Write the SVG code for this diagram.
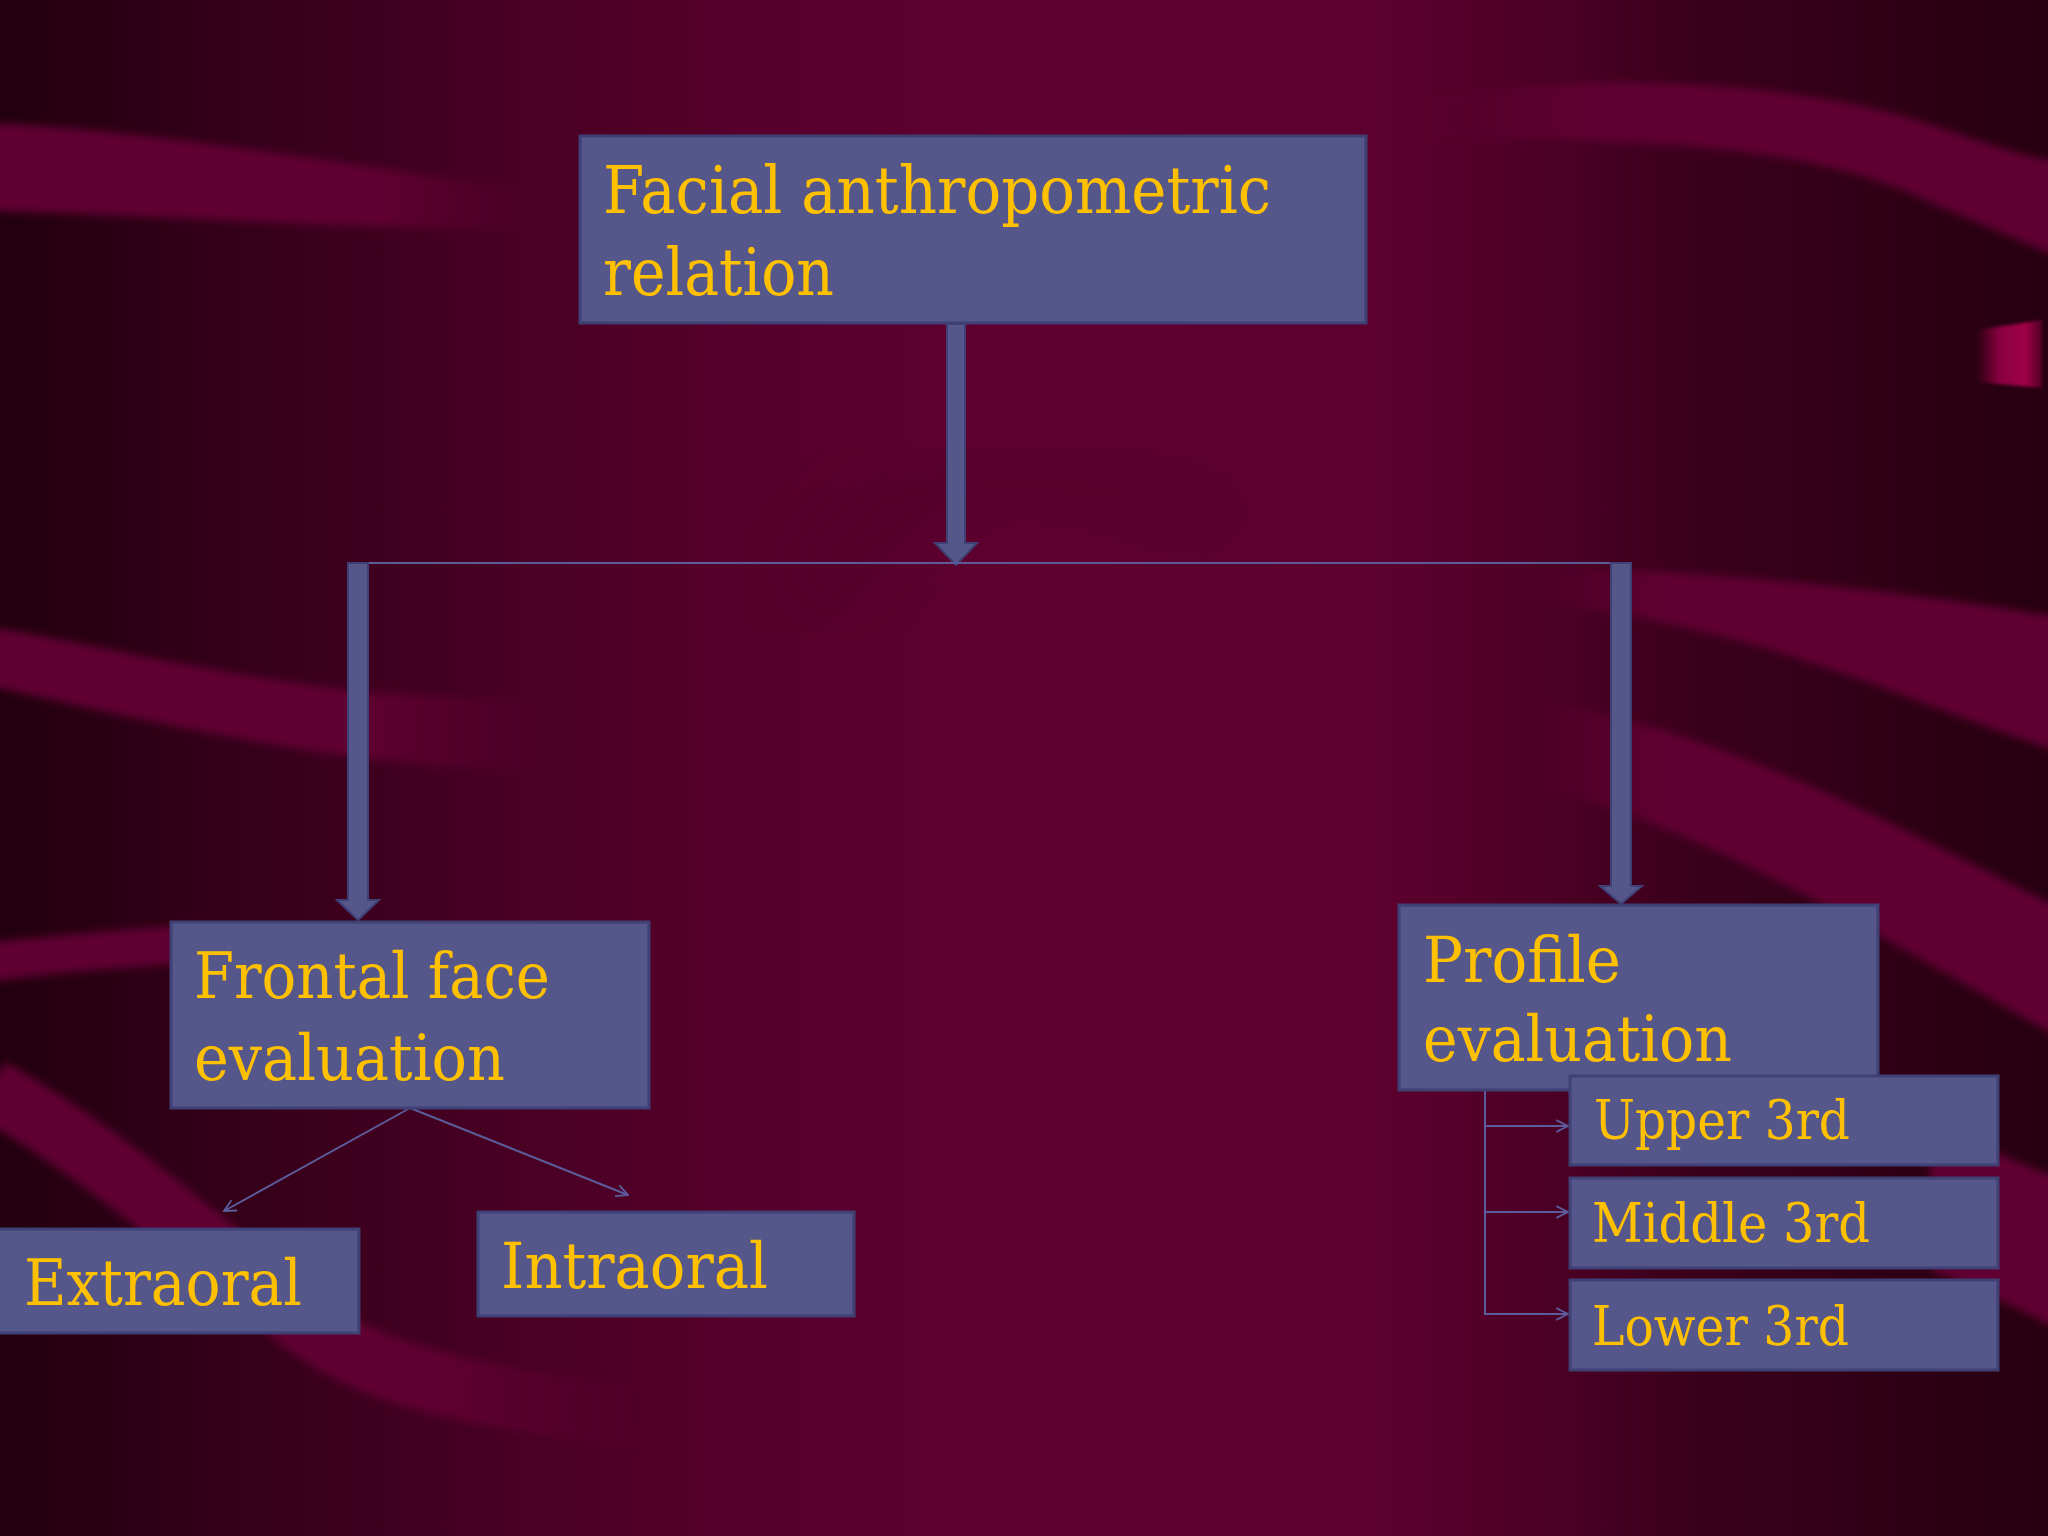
<svg xmlns="http://www.w3.org/2000/svg" width="2048" height="1536" viewBox="0 0 2048 1536">
<defs>
<linearGradient id="bgH" x1="0" y1="0" x2="1" y2="0">
<stop offset="0" stop-color="#22000f"/>
<stop offset="0.15" stop-color="#3a001c"/>
<stop offset="0.35" stop-color="#55002a"/>
<stop offset="0.5" stop-color="#600030"/>
<stop offset="0.68" stop-color="#5c002e"/>
<stop offset="0.83" stop-color="#3a001b"/>
<stop offset="1" stop-color="#260010"/>
</linearGradient>
<linearGradient id="fadeR1" gradientUnits="userSpaceOnUse" x1="380" y1="0" x2="540" y2="0">
<stop offset="0" stop-color="#600030"/>
<stop offset="1" stop-color="#600030" stop-opacity="0"/>
</linearGradient>
<linearGradient id="fadeR2" gradientUnits="userSpaceOnUse" x1="360" y1="0" x2="560" y2="0">
<stop offset="0" stop-color="#600030"/>
<stop offset="1" stop-color="#600030" stop-opacity="0"/>
</linearGradient>
<linearGradient id="fadeR3" gradientUnits="userSpaceOnUse" x1="440" y1="0" x2="640" y2="0">
<stop offset="0" stop-color="#600030"/>
<stop offset="1" stop-color="#600030" stop-opacity="0"/>
</linearGradient>
<linearGradient id="fadeL1" gradientUnits="userSpaceOnUse" x1="1420" y1="0" x2="1580" y2="0">
<stop offset="0" stop-color="#600030" stop-opacity="0"/>
<stop offset="1" stop-color="#600030"/>
</linearGradient>
<linearGradient id="fadeL2" gradientUnits="userSpaceOnUse" x1="1520" y1="0" x2="1660" y2="0">
<stop offset="0" stop-color="#600030" stop-opacity="0"/>
<stop offset="1" stop-color="#600030"/>
</linearGradient>
<linearGradient id="blob" x1="0" y1="0" x2="1" y2="0">
<stop offset="0" stop-color="#90003e" stop-opacity="0"/>
<stop offset="0.35" stop-color="#a0084c" stop-opacity="0.8"/>
<stop offset="0.75" stop-color="#a00048"/>
<stop offset="1" stop-color="#80003a" stop-opacity="0.5"/>
</linearGradient>
<filter id="soft" x="-10%" y="-10%" width="120%" height="120%"><feGaussianBlur stdDeviation="4"/></filter>
<filter id="tiny" x="-10%" y="-10%" width="120%" height="120%"><feGaussianBlur stdDeviation="1.5"/></filter>
<filter id="blurBig" x="-30%" y="-30%" width="160%" height="160%"><feGaussianBlur stdDeviation="30"/></filter>
<marker id="open" viewBox="0 0 12 12" refX="11" refY="6" markerWidth="14" markerHeight="14" markerUnits="userSpaceOnUse" orient="auto">
<path d="M1,1 L11,6 L1,11" fill="none" stroke="#5c5c9c" stroke-width="1.6"/>
</marker>
<style>
.box{fill:#55568a;stroke:#3f4075;stroke-width:3}
.t{font-family:"DejaVu Serif","Liberation Serif",serif;fill:#ffc000}
.thick{fill:#55568a;stroke:#3f4075;stroke-width:2}
.thin{fill:none;stroke:#5c5c9c;stroke-width:2}
</style>
</defs>
<g id="background">
<rect width="2048" height="1536" fill="url(#bgH)"/>
<path d="M820,600 C860,480 1000,450 1220,520" fill="none" stroke="#4c0026" stroke-width="60" opacity="0.45" filter="url(#blurBig)"/>
<g filter="url(#soft)">
<path d="M-10,123 C150,130 350,165 540,192 L540,230 C350,228 150,215 -10,211 Z" fill="url(#fadeR1)"/>
<path d="M-10,627 C100,645 200,672 360,692 L560,702 L560,772 C380,768 250,745 -10,686 Z" fill="url(#fadeR2)"/>
<path d="M-10,942 C60,936 130,928 220,924 L220,962 C130,966 60,972 -10,982 Z" fill="#600030"/>
<path d="M-10,1089 C100,1150 200,1240 300,1320 C360,1365 420,1390 640,1418" fill="none" stroke="url(#fadeR3)" stroke-width="62"/>
<path d="M1420,98 C1600,72 1800,80 1938,127 C1990,145 2020,155 2060,162 L2060,258 C2000,232 1960,215 1938,206 C1850,160 1700,132 1420,140 Z" fill="url(#fadeL1)"/>
<path d="M1520,566 C1800,575 1950,600 2060,617 L2060,752 C1900,700 1750,620 1520,602 Z" fill="url(#fadeL2)"/>
<path d="M1540,700 C1750,740 1900,830 2060,908 L2060,1038 C1900,950 1700,820 1540,790 Z" fill="url(#fadeL2)"/>
<path d="M1930,1120 C1980,1145 2020,1165 2060,1178 L2060,1330 C2020,1310 1980,1290 1930,1270 Z" fill="#600030"/>
</g>
<polygon points="1976,330 2042,320 2042,388 1976,382" fill="url(#blob)" filter="url(#tiny)"/>
</g>
<g id="connectors">
<polygon class="thick" points="947,324 965,324 965,543 977,543 956,565 935,543 947,543"/>
<line class="thin" x1="350" y1="563" x2="1621" y2="563"/>
<polygon class="thick" points="348,563 368,563 368,900 379,900 358,920 337,900 348,900"/>
<polygon class="thick" points="1611,563 1631,563 1631,886 1642,886 1621,904 1600,886 1611,886"/>
<line class="thin" x1="410" y1="1108" x2="224" y2="1211" marker-end="url(#open)"/>
<line class="thin" x1="410" y1="1108" x2="628" y2="1195" marker-end="url(#open)"/>
<line class="thin" x1="1485" y1="1090" x2="1485" y2="1314"/>
<line class="thin" x1="1484" y1="1126" x2="1568" y2="1126" marker-end="url(#open)"/>
<line class="thin" x1="1484" y1="1212" x2="1568" y2="1212" marker-end="url(#open)"/>
<line class="thin" x1="1484" y1="1314" x2="1568" y2="1314" marker-end="url(#open)"/>
</g>
<g id="node-facial">
<rect class="box" x="580" y="136" width="786" height="187"/>
<text class="t" font-size="66" x="603" y="213" textLength="668" lengthAdjust="spacingAndGlyphs">Facial anthropometric</text>
<text class="t" font-size="66" x="603" y="295" textLength="231" lengthAdjust="spacingAndGlyphs">relation</text>
</g>
<g id="node-frontal">
<rect class="box" x="171" y="922" width="478" height="186"/>
<text class="t" font-size="63" x="194" y="998" textLength="356" lengthAdjust="spacingAndGlyphs">Frontal face</text>
<text class="t" font-size="63" x="194" y="1080" textLength="311" lengthAdjust="spacingAndGlyphs">evaluation</text>
</g>
<g id="node-extraoral">
<rect class="box" x="-2" y="1229" width="361" height="104"/>
<text class="t" font-size="64" x="24" y="1305" textLength="278" lengthAdjust="spacingAndGlyphs">Extraoral</text>
</g>
<g id="node-intraoral">
<rect class="box" x="478" y="1212" width="376" height="104"/>
<text class="t" font-size="64" x="501" y="1288" textLength="267" lengthAdjust="spacingAndGlyphs">Intraoral</text>
</g>
<g id="node-profile">
<rect class="box" x="1399" y="905" width="479" height="185"/>
<text class="t" font-size="63" x="1423" y="982" textLength="198" lengthAdjust="spacingAndGlyphs">Profile</text>
<text class="t" font-size="63" x="1423" y="1061" textLength="309" lengthAdjust="spacingAndGlyphs">evaluation</text>
</g>
<g id="node-upper">
<rect class="box" x="1570" y="1076" width="428" height="89"/>
<text class="t" font-size="54" x="1594" y="1139" textLength="256" lengthAdjust="spacingAndGlyphs">Upper 3rd</text>
</g>
<g id="node-middle">
<rect class="box" x="1570" y="1178" width="428" height="90"/>
<text class="t" font-size="54" x="1592" y="1242" textLength="278" lengthAdjust="spacingAndGlyphs">Middle 3rd</text>
</g>
<g id="node-lower">
<rect class="box" x="1570" y="1280" width="428" height="90"/>
<text class="t" font-size="54" x="1592" y="1345" textLength="257" lengthAdjust="spacingAndGlyphs">Lower 3rd</text>
</g>
</svg>
